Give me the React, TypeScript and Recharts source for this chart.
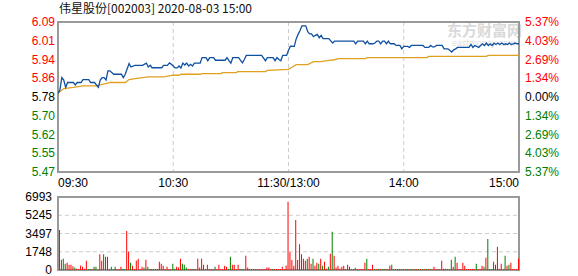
import React from "react";
import {
  LineChart, Line, BarChart, Bar, Cell, XAxis, YAxis, CartesianGrid, ReferenceArea,
} from "recharts";

// ── Axis labels ────────────────────────────────────────────────────────────────
const TITLE = "伟星股份[002003] 2020-08-03 15:00";
const TIME_TICKS = [0, 60, 120, 180, 240];
const TIME_LABELS = ["09:30", "10:30", "11:30/13:00", "14:00", "15:00"];
// bottom → top
const PRICE_LABELS = ["5.47", "5.55", "5.62", "5.70", "5.78", "5.86", "5.94", "6.01", "6.09"];
const PCT_LABELS = ["5.37%", "4.03%", "2.69%", "1.34%", "0.00%", "1.34%", "2.69%", "4.03%", "5.37%"];
const VOL_LABELS = ["0", "1748", "3497", "5245", "6993"];

const P_MIN = 5.47;
const P_MAX = 6.09;
const VOL_MAX = 6993;

// ── Minute data (minute index, value) ──────────────────────────────────────────
const PRICE: [number, number][] = [
  [0, 5.795], [1, 5.81], [2, 5.86], [3, 5.85], [4, 5.82], [5, 5.84], [8, 5.84], [9, 5.83], [10, 5.84],
  [12, 5.84], [13, 5.852], [16, 5.852], [17, 5.84], [19, 5.84], [21, 5.82], [22, 5.85], [23, 5.86],
  [24, 5.86], [25, 5.85], [26, 5.888], [27, 5.888], [29, 5.874], [33, 5.874], [34, 5.86], [35, 5.874],
  [37, 5.918], [38, 5.904], [40, 5.911], [44, 5.911], [46, 5.92], [47, 5.904], [48, 5.911], [49, 5.901],
  [54, 5.901], [55, 5.911], [57, 5.911], [58, 5.921], [59, 5.915], [60, 5.908], [61, 5.9], [62, 5.9],
  [63, 5.908], [64, 5.9], [65, 5.92], [66, 5.912], [67, 5.92], [68, 5.908], [69, 5.915], [70, 5.908],
  [71, 5.92], [74, 5.92], [75, 5.943], [77, 5.943], [78, 5.93], [79, 5.943], [81, 5.943], [82, 5.932],
  [87, 5.932], [88, 5.943], [89, 5.93], [90, 5.92], [91, 5.943], [94, 5.943], [96, 5.921], [97, 5.935],
  [98, 5.952], [106, 5.952], [108, 5.93], [109, 5.943], [112, 5.943], [113, 5.93], [114, 5.943],
  [115, 5.935], [116, 5.93], [117, 5.952], [119, 5.952], [120, 5.973], [121, 5.99], [123, 5.989],
  [124, 6.02], [125, 6.039], [126, 6.055], [127, 6.074], [129, 6.074], [130, 6.05], [131, 6.041],
  [132, 6.041], [133, 6.03], [134, 6.035], [135, 6.039], [136, 6.025], [137, 6.035], [138, 6.021],
  [141, 6.021], [142, 6.012], [143, 6.003], [144, 6.011], [154, 6.011], [155, 6.0], [156, 6.011],
  [159, 6.011], [160, 6.0], [161, 6.011], [162, 6.0], [164, 6.0], [165, 6.003], [166, 6.011],
  [167, 6.011], [168, 6.0], [169, 6.011], [170, 6.011], [171, 6.0], [172, 6.011], [173, 6.0],
  [175, 6.0], [176, 5.993], [178, 5.993], [179, 5.979], [180, 5.989], [182, 5.989], [183, 5.985],
  [184, 5.993], [190, 5.993], [191, 5.985], [193, 5.985], [194, 5.993], [195, 5.987], [196, 5.987],
  [197, 5.993], [200, 5.993], [201, 5.979], [203, 5.979], [205, 5.966], [206, 5.975], [207, 5.979],
  [208, 5.985], [214, 5.985], [215, 5.997], [216, 5.985], [217, 5.993], [219, 5.985], [220, 5.993],
  [221, 6.0], [222, 5.993], [223, 6.003], [224, 5.993], [225, 6.0], [226, 5.993], [227, 6.003],
  [228, 5.997], [229, 6.003], [230, 5.997], [231, 6.003], [232, 5.997], [233, 6.0], [234, 5.997],
  [235, 6.003], [236, 5.997], [237, 6.0], [238, 6.003], [239, 6.0], [240, 6.0],
];

const AVG: [number, number][] = [
  [0, 5.795], [3, 5.815], [8, 5.82], [13, 5.826], [20, 5.826], [23.5, 5.833], [27.5, 5.84], [35, 5.84],
  [37, 5.852], [41, 5.857], [47, 5.863], [55, 5.863], [58, 5.867], [60, 5.87], [63, 5.87], [64, 5.874],
  [74, 5.874], [75, 5.877], [85, 5.877], [85.5, 5.881], [93, 5.881], [93.5, 5.885], [108, 5.885],
  [109, 5.89], [120, 5.894], [122, 5.904], [124, 5.914], [130, 5.914], [133, 5.926], [137, 5.926],
  [140, 5.93], [144, 5.934], [146, 5.939], [160, 5.939], [161, 5.943], [192, 5.943], [193, 5.948],
  [223, 5.948], [224, 5.952], [240, 5.952],
];

// one value per minute, 0..240
const VOLUME = [
  0, 3830, 980, 1080, 600, 700, 510, 510, 350, 250,
  130, 100, 440, 320, 130, 890, 100, 100, 100, 320,
  320, 100, 1520, 890, 1520, 1270, 1270, 100, 320, 100,
  320, 100, 100, 320, 100, 100, 3740, 1740, 700, 410,
  100, 920, 1080, 100, 320, 250, 980, 320, 100, 100,
  100, 100, 100, 790, 600, 410, 100, 320, 100, 100,
  600, 130, 320, 250, 1080, 600, 500, 250, 130, 100,
  100, 100, 100, 1080, 250, 1080, 500, 100, 500, 100,
  100, 100, 320, 100, 500, 100, 100, 410, 320, 100,
  1270, 500, 500, 100, 500, 100, 100, 100, 1360, 250,
  100, 100, 100, 100, 100, 100, 100, 100, 100, 250,
  250, 100, 100, 100, 100, 100, 100, 320, 100, 440,
  6530, 1710, 950, 410, 4780, 950, 2470, 1520, 1080, 890,
  1080, 1270, 600, 1080, 410, 700, 600, 1080, 410, 790,
  130, 320, 1550, 3670, 1360, 250, 410, 130, 320, 410,
  100, 500, 320, 100, 100, 220, 100, 100, 100, 100,
  700, 1080, 100, 100, 500, 100, 100, 100, 100, 100,
  100, 100, 100, 410, 500, 100, 100, 100, 100, 100,
  100, 100, 100, 100, 100, 100, 100, 100, 100, 100,
  100, 100, 100, 100, 100, 100, 320, 100, 100, 100,
  890, 130, 130, 100, 100, 980, 320, 1270, 700, 100,
  100, 700, 410, 100, 100, 100, 100, 100, 600, 100,
  100, 410, 320, 1170, 2980, 100, 100, 790, 500, 2220,
  130, 600, 100, 1360, 410, 500, 700, 100, 100, 100,
  1080,
];
const GREEN_BARS = [
  3, 4, 9, 16, 17, 19, 20, 24, 28, 29, 30, 34, 35, 38, 45, 47, 49, 50, 60, 61, 65, 66, 67, 70, 82, 89,
  90, 95, 96, 112, 130, 133, 136, 138, 141, 143, 155, 161, 165, 167, 169, 171, 174, 176, 178, 180, 182,
  184, 186, 188, 190, 192, 194, 204, 205, 207, 218, 222, 224, 225, 226, 233, 235,
];

// ── Styling ────────────────────────────────────────────────────────────────────
const RED = "#ff0000";
const GREEN = "#008000";
const BLUE = "#1050a0";
const GOLD = "#e0a020";
const FRAME = "#999999";
const GRID = "#cccccc";
const NUM_FONT = "'Liberation Sans', Arial, sans-serif";

const priceData = PRICE.map(([t, p]) => ({ t, p }));
const avgData = AVG.map(([t, a]) => ({ t, a }));
const volData = VOLUME.map((v, t) => ({ t, v }));

const pStep = (P_MAX - P_MIN) / 8;
const PRICE_TICKS = PRICE_LABELS.map((_, k) => P_MIN + k * pStep);
const VOL_TICKS = VOL_LABELS.map((_, k) => (VOL_MAX / 4) * k);

const tickColor = (k: number) => (k > 4 ? RED : k < 4 ? GREEN : "#000000");

function LeftTick(p: any) {
  const k = Math.round((p.payload.value - P_MIN) / pStep);
  return (
    <text x={55} y={p.y + 4} textAnchor="end" fontSize={12} fontFamily={NUM_FONT} fill={tickColor(k)}>
      {PRICE_LABELS[k]}
    </text>
  );
}

function RightTick(p: any) {
  const k = Math.round((p.payload.value - P_MIN) / pStep);
  return (
    <text x={525} y={p.y + 4} textAnchor="start" fontSize={12} fontFamily={NUM_FONT} fill={tickColor(k)}>
      {PCT_LABELS[k]}
    </text>
  );
}

function TimeTick(p: any) {
  const k = TIME_TICKS.indexOf(p.payload.value);
  const anchor = k === 0 ? "start" : k === TIME_TICKS.length - 1 ? "end" : "middle";
  return (
    <text x={p.x} y={187} textAnchor={anchor} fontSize={12} fontFamily={NUM_FONT} fill="#000">
      {TIME_LABELS[k]}
    </text>
  );
}

function VolTick(p: any) {
  const k = Math.round(p.payload.value / (VOL_MAX / 4));
  return (
    <text x={52} y={p.y + 4} textAnchor="end" fontSize={12} fontFamily={NUM_FONT} fill="#000">
      {VOL_LABELS[k]}
    </text>
  );
}

export default function App() {
  return (
    <div style={{ position: "absolute", left: 0, top: 0, width: 578, height: 276, background: "#fff", overflow: "hidden" }}>
      {/* title */}
      <div style={{ position: "absolute", left: 59, top: 0, fontSize: 12, lineHeight: "16px", fontFamily: "'Noto Sans CJK SC', sans-serif", color: "#111", whiteSpace: "nowrap" }}>
        {TITLE}
      </div>
      {/* watermark */}
      <div style={{ position: "absolute", left: 447, top: 22, fontSize: 15, fontWeight: 700, lineHeight: "16px", fontFamily: "'Noto Sans CJK SC', sans-serif", color: "#d9d9d9", whiteSpace: "nowrap" }}>
        东方财富网
      </div>
      <div style={{ position: "absolute", left: 452, top: 39, fontSize: 8, lineHeight: "9px", fontFamily: "'DejaVu Sans', sans-serif", fontStyle: "italic", color: "#dddddd", whiteSpace: "nowrap" }}>
        eastmoney.com
      </div>

      {/* price panel */}
      <div style={{ position: "absolute", left: 0, top: 0 }}>
        <LineChart width={578} height={195} margin={{ top: 22, right: 0, bottom: 0, left: 0 }}>
          <CartesianGrid strokeDasharray="4 3" stroke={GRID} />
          <XAxis dataKey="t" type="number" domain={[0, 240]} ticks={TIME_TICKS} allowDataOverflow
            height={23} axisLine={false} tickLine={false} tick={TimeTick} interval={0} />
          <YAxis yAxisId="left" domain={[P_MIN, P_MAX]} ticks={PRICE_TICKS} allowDataOverflow width={58}
            axisLine={false} tickLine={false} tick={LeftTick} interval={0} />
          <YAxis yAxisId="right" orientation="right" domain={[P_MIN, P_MAX]} ticks={PRICE_TICKS} allowDataOverflow
            width={59} axisLine={false} tickLine={false} tick={RightTick} interval={0} />
          <Line yAxisId="left" data={avgData} dataKey="a" type="linear" stroke={GOLD} strokeWidth={1.3}
            dot={false} isAnimationActive={false} />
          <Line yAxisId="left" data={priceData} dataKey="p" type="linear" stroke={BLUE} strokeWidth={1.3}
            dot={false} isAnimationActive={false} />
          <ReferenceArea yAxisId="left" x1={0} x2={240} y1={P_MIN} y2={P_MAX} fill="none" fillOpacity={0}
            stroke={FRAME} strokeWidth={2} ifOverflow="visible" />
        </LineChart>
      </div>

      {/* volume panel */}
      <div style={{ position: "absolute", left: 0, top: 186 }}>
        <BarChart width={578} height={90} data={volData} margin={{ top: 11, right: 59, bottom: 6, left: 0 }} barSize={1}>
          <CartesianGrid strokeDasharray="4 3" stroke={GRID} />
          <XAxis dataKey="t" type="number" domain={[0, 240]} ticks={TIME_TICKS} height={0}
            axisLine={false} tickLine={false} tick={false} />
          <YAxis domain={[0, VOL_MAX]} ticks={VOL_TICKS} allowDataOverflow width={58}
            axisLine={false} tickLine={false} tick={VolTick} interval={0} />
          <Bar dataKey="v" isAnimationActive={false}>
            {volData.map((d) => (
              <Cell key={d.t} fill={GREEN_BARS.includes(d.t) ? GREEN : RED} />
            ))}
          </Bar>
          <ReferenceArea x1={0} x2={240} y1={0} y2={VOL_MAX} fill="none" fillOpacity={0}
            stroke={FRAME} strokeWidth={2} ifOverflow="visible" />
        </BarChart>
      </div>
    </div>
  );
}
